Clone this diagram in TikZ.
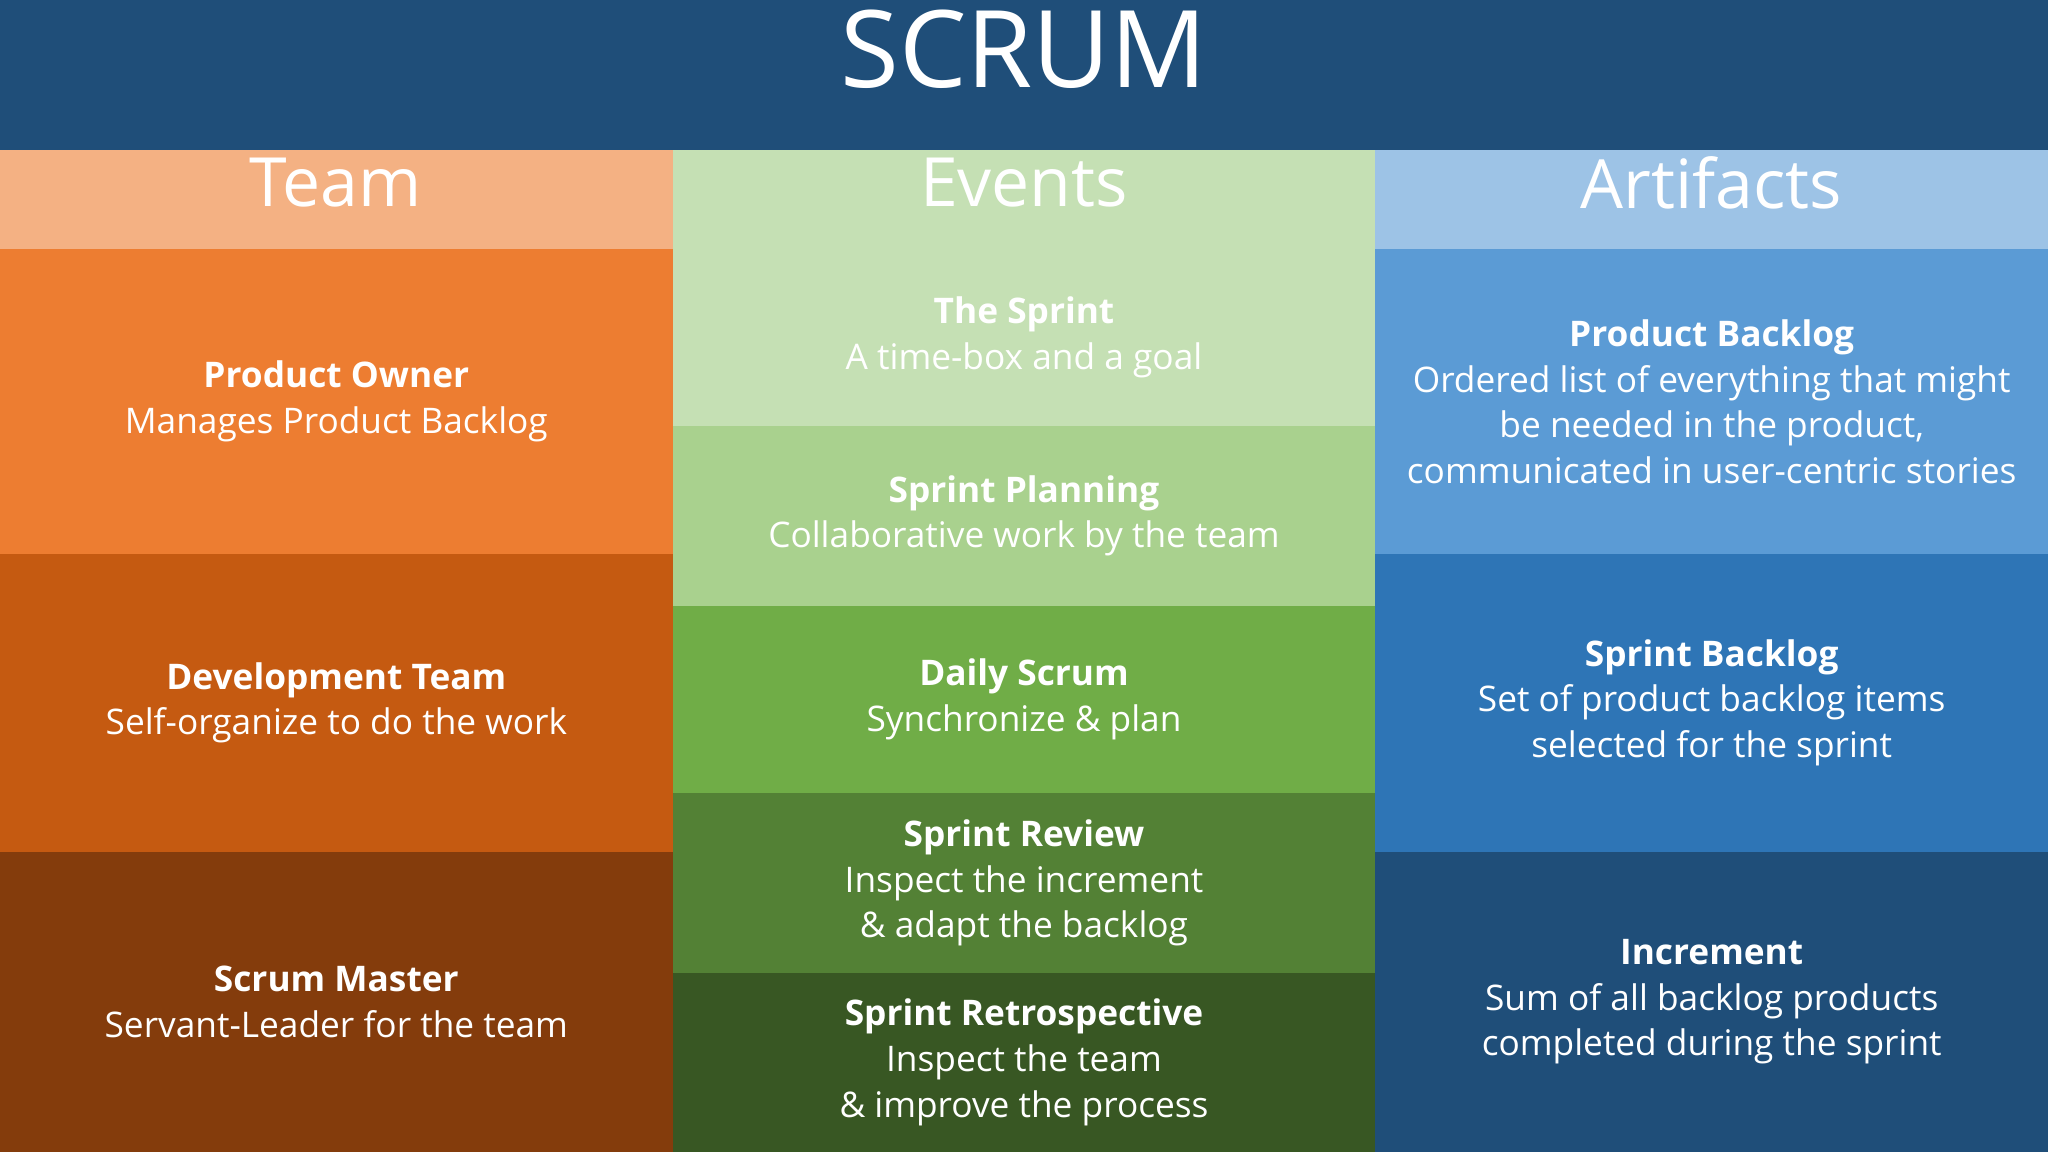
\documentclass[tikz,border=0pt]{standalone}
\usepackage{fontspec}
\setmainfont{Open Sans}
\definecolor{titlebg}{HTML}{1F4E79}
\definecolor{teamh}{HTML}{F4B183}
\definecolor{teamA}{HTML}{ED7D31}
\definecolor{teamB}{HTML}{C55A11}
\definecolor{teamC}{HTML}{843C0C}
\definecolor{evh}{HTML}{C5E0B4}
\definecolor{evA}{HTML}{C5E0B4}
\definecolor{evB}{HTML}{A9D18E}
\definecolor{evC}{HTML}{70AD47}
\definecolor{evD}{HTML}{538135}
\definecolor{evE}{HTML}{385723}
\definecolor{arh}{HTML}{9DC3E6}
\definecolor{arA}{HTML}{5B9BD5}
\definecolor{arB}{HTML}{2E75B6}
\definecolor{arC}{HTML}{1F4E79}
\tikzset{
  cell/.style={text=white,align=center,font=\fontsize{27}{35}\selectfont},
  head/.style={text=white,font=\fontsize{52}{60}\selectfont},
}
\newcommand{\cellbox}[6]{%
  \fill[#5] (#1,#2) rectangle (#3,#4);
  \node[cell] (#6) at ({(#1+#3)/2},{(#2+#4)/2}) }
\begin{document}
\begin{tikzpicture}[x=1pt,y=-1pt]
\useasboundingbox (0,0) rectangle (1568,882);
\fill[titlebg] (0,0) rectangle (1568,115);
\node[text=white,font=\fontsize{82}{90}\selectfont] (title) at (784,38) {SCRUM};
% headers
\fill[teamh] (0,115) rectangle (515,191);
\fill[evh] (515,115) rectangle (1053,191);
\fill[arh] (1053,115) rectangle (1568,191);
\node[head] (hteam) at (257,140) {Team};
\node[head] (hev) at (784,140) {Events};
\node[head] (har) at (1310,140) {Artifacts};
% team
\cellbox{0}{191}{515}{424}{teamA}{po}{\textbf{Product Owner}\\Manages Product Backlog};
\cellbox{0}{424}{515}{652}{teamB}{dt}{\textbf{Development Team}\\Self-organize to do the work};
\cellbox{0}{652}{515}{882}{teamC}{sm}{\textbf{Scrum Master}\\Servant-Leader for the team};
% events
\cellbox{515}{191}{1053}{326}{evA}{sp}{\textbf{The Sprint}\\A time-box and a goal};
\cellbox{515}{326}{1053}{464}{evB}{spl}{\textbf{Sprint Planning}\\Collaborative work by the team};
\cellbox{515}{464}{1053}{607}{evC}{ds}{\textbf{Daily Scrum}\\Synchronize \& plan};
\cellbox{515}{607}{1053}{745}{evD}{sr}{\textbf{Sprint Review}\\Inspect the increment\\\& adapt the backlog};
\cellbox{515}{745}{1053}{882}{evE}{sre}{\textbf{Sprint Retrospective}\\Inspect the team\\\& improve the process};
% artifacts
\cellbox{1053}{191}{1568}{424}{arA}{pb}{\textbf{Product Backlog}\\Ordered list of everything that might\\be needed in the product,\\communicated in user-centric stories};
\cellbox{1053}{424}{1568}{652}{arB}{sb}{\textbf{Sprint Backlog}\\Set of product backlog items\\selected for the sprint};
\cellbox{1053}{652}{1568}{882}{arC}{inc}{\textbf{Increment}\\Sum of all backlog products\\completed during the sprint};
\end{tikzpicture}
\end{document}
